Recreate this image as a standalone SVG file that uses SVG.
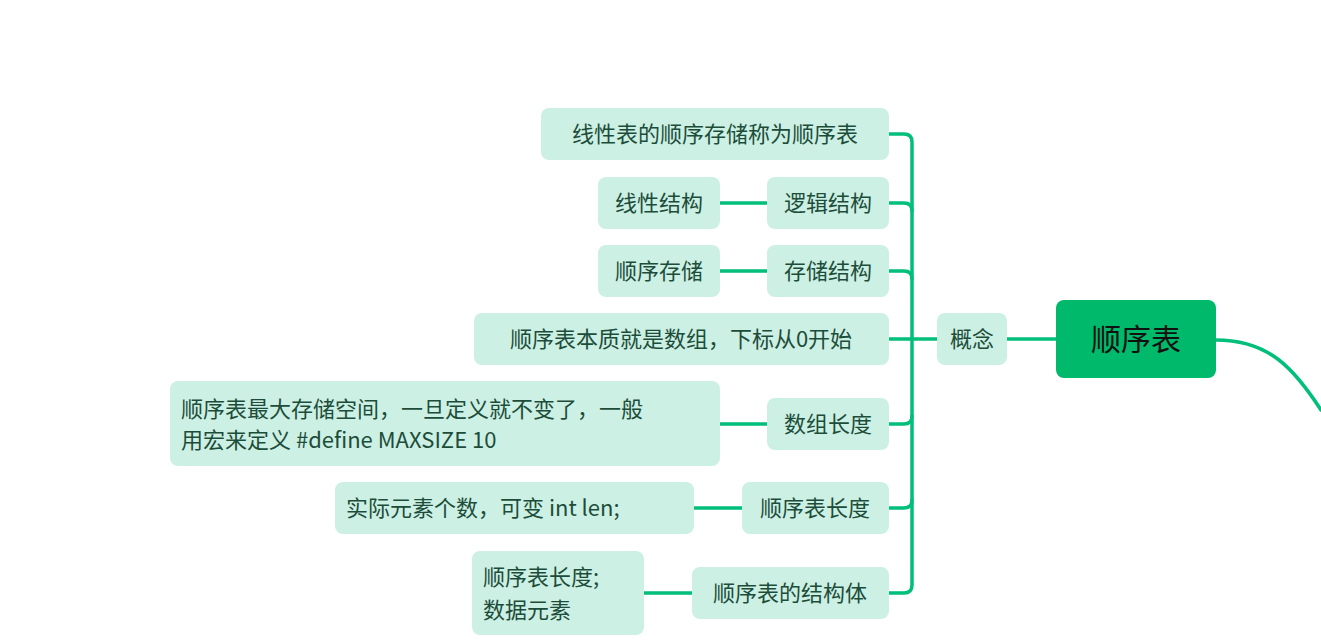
<svg xmlns="http://www.w3.org/2000/svg" width="1321" height="642" viewBox="0 0 1321 642">
<style>
.n{fill:#cdf0e4}
.t{font-family:"Noto Sans CJK SC","Liberation Sans",sans-serif;font-size:22px;fill:#1c4d3a}
.c{fill:none;stroke:#00bf7b;stroke-width:3.5;stroke-linecap:round}
</style>
<rect width="1321" height="642" fill="#fff"/>
<g id="connectors">
<path class="c" d="M1216,340 C1270,340 1295,370 1321,410"/>
<path class="c" d="M1007,339 H1056"/>
<path class="c" d="M889,339 H937"/>
<path class="c" d="M889,134 H904 Q912,134 912,142 V585 Q912,593 904,593 H889"/>
<path class="c" d="M889,203 H904 Q912,203 912,211"/>
<path class="c" d="M889,271 H904 Q912,271 912,279"/>
<path class="c" d="M889,424 H904 Q912,424 912,416"/>
<path class="c" d="M889,508 H904 Q912,508 912,500"/>
<path class="c" d="M720,203 H767"/>
<path class="c" d="M720,271 H767"/>
<path class="c" d="M720,424 H767"/>
<path class="c" d="M694,508 H742"/>
<path class="c" d="M644,593 H692"/>
</g>
<g id="root"><rect x="1056" y="300" width="160" height="78" rx="8" fill="#00b96b"/><text x="1136" y="350" text-anchor="middle" style="font-family:'Noto Sans CJK SC',sans-serif;font-size:30px;fill:#111">顺序表</text></g>
<g id="concept"><rect class="n" x="937" y="313" width="70" height="52" rx="8"/><text class="t" x="972" y="347" text-anchor="middle">概念</text></g>
<g id="n1"><rect class="n" x="541" y="108" width="348" height="52" rx="8"/><text class="t" x="715" y="142" text-anchor="middle">线性表的顺序存储称为顺序表</text></g>
<g id="n2"><rect class="n" x="767" y="177" width="122" height="52" rx="8"/><text class="t" x="828" y="211" text-anchor="middle">逻辑结构</text></g>
<g id="n2a"><rect class="n" x="598" y="177" width="122" height="52" rx="8"/><text class="t" x="659" y="211" text-anchor="middle">线性结构</text></g>
<g id="n3"><rect class="n" x="767" y="245" width="122" height="52" rx="8"/><text class="t" x="828" y="279" text-anchor="middle">存储结构</text></g>
<g id="n3a"><rect class="n" x="598" y="245" width="122" height="52" rx="8"/><text class="t" x="659" y="279" text-anchor="middle">顺序存储</text></g>
<g id="n4"><rect class="n" x="474" y="313" width="415" height="52" rx="8"/><text class="t" x="681" y="347" text-anchor="middle">顺序表本质就是数组，下标从0开始</text></g>
<g id="n5"><rect class="n" x="767" y="398" width="122" height="52" rx="8"/><text class="t" x="828" y="432" text-anchor="middle">数组长度</text></g>
<g id="n5a"><rect class="n" x="170" y="381" width="550" height="85" rx="8"/><text class="t" x="181" y="417">顺序表最大存储空间，一旦定义就不变了，一般</text><text class="t" x="181" y="448">用宏来定义   #define MAXSIZE 10</text></g>
<g id="n6"><rect class="n" x="742" y="482" width="147" height="52" rx="8"/><text class="t" x="815" y="516" text-anchor="middle">顺序表长度</text></g>
<g id="n6a"><rect class="n" x="335" y="482" width="359" height="52" rx="8"/><text class="t" x="346" y="516">实际元素个数，可变  int len;</text></g>
<g id="n7"><rect class="n" x="692" y="567" width="197" height="52" rx="8"/><text class="t" x="790" y="601" text-anchor="middle">顺序表的结构体</text></g>
<g id="n7a"><rect class="n" x="472" y="551" width="172" height="84" rx="8"/><text class="t" x="483" y="585">顺序表长度;</text><text class="t" x="483" y="618">数据元素</text></g>
</svg>
